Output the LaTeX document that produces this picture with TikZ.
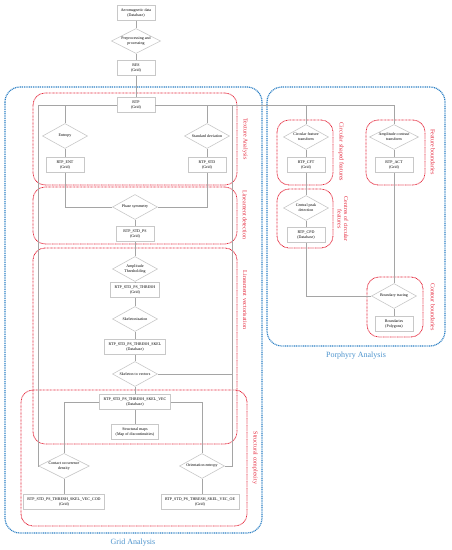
\documentclass[tikz,border=0pt]{standalone}
\usepackage{fontspec}
\setmainfont{Liberation Serif}
\usetikzlibrary{shapes.geometric}

\definecolor{grpred}{RGB}{228,40,60}
\definecolor{grpblue}{RGB}{45,128,196}
\definecolor{boxgray}{RGB}{200,200,200}
\definecolor{linegray}{RGB}{165,165,165}

\tikzset{
    databox/.style={draw=boxgray, fill=white, line width=0.6pt, align=center,
        font=\fontsize{4}{4.8}\selectfont, minimum width=38pt, minimum height=15pt,
        inner xsep=4pt, inner ysep=1pt},
    decision/.style={diamond, draw=boxgray, fill=white, line width=0.6pt, align=center,
        font=\fontsize{4}{4.8}\selectfont, aspect=2, inner sep=0.5pt,
        minimum width=45pt, minimum height=25pt},
    link/.style={draw=linegray, line width=0.7pt},
    stage/.style={draw=grpred, line width=0.8pt, dash pattern=on 0.8pt off 0.6pt, rounded corners=12pt},
    stagelabel/.style={text=grpred, rotate=-90, align=center, font=\fontsize{6}{6.5}\selectfont},
    analysis/.style={draw=grpblue, line width=1.2pt, dash pattern=on 1pt off 0.8pt, rounded corners=15pt},
    analysislabel/.style={text=grpblue!85, font=\fontsize{8}{9}\selectfont}
}

\begin{document}
\begin{tikzpicture}[x=1pt, y=-1pt]
    \useasboundingbox (0,0) rectangle (451,550);

    % groups
    \draw[analysis] (5,87) rectangle (262,533);
    \node[analysislabel] (gridlbl) at (133,543) {Grid Analysis};
    \draw[analysis] (267,87) rectangle (445,346);
    \node[analysislabel] (porlbl) at (356,356) {Porphyry Analysis};

    \draw[stage] (33,93) rectangle (237,185);
    \node[stagelabel] (texlbl) at (245,139) {Texture Analysis};
    \draw[stage] (33,187) rectangle (237,244);
    \node[stagelabel] (detlbl) at (245,215) {Lineament detection};
    \draw[stage] (33,248) rectangle (237,444);
    \node[stagelabel] (veclbl) at (245,300) {Lineament vectorisation};
    \draw[stage] (21,390) rectangle (247,526);
    \node[stagelabel] (strlbl) at (255,458) {Structural complexity};
    \draw[stage] (277,120) rectangle (333,185);
    \node[stagelabel] (cirlbl) at (341,152) {Circular shaped features};
    \draw[stage] (277,189) rectangle (333,248);
    \node[stagelabel] (cenlbl) at (343,219) {Centres of circular\\features};
    \draw[stage] (366,120) rectangle (425,185);
    \node[stagelabel] (feblbl) at (433,152) {Feature boundaries};
    \draw[stage] (367,277) rectangle (423,337);
    \node[stagelabel] (coblbl) at (433,307) {Contour boundaries};

    % grid analysis
    \node[databox] (aero) at (136,13) {Aeromagnetic data\\(Database)};
    \node[decision] (prep) at (136,41) {Preprocessing and\\processing};
    \node[databox] (res) at (136,68) {RES\\(Grid)};
    \node[databox] (rtp) at (136,105) {RTP\\(Grid)};
    \node[decision] (ent) at (65,136) {Entropy};
    \node[databox] (rtpent) at (65,165) {RTP\_ENT\\(Grid)};
    \node[decision] (std) at (207,136) {Standard deviation};
    \node[databox] (rtpstd) at (207,165) {RTP\_STD\\(Grid)};
    \node[decision] (ps) at (135,207) {Phase symmetry};
    \node[databox] (rtpps) at (135,234) {RTP\_STD\_PS\\(Grid)};
    \node[decision] (thr) at (135,269) {Amplitude\\Thresholding};
    \node[databox] (rtpthr) at (135,290) {RTP\_STD\_PS\_THRESH\\(Grid)};
    \node[decision] (skel) at (135,319) {Skeletonisation};
    \node[databox] (rtpskel) at (135,347) {RTP\_STD\_PS\_THRESH\_SKEL\\(Database)};
    \node[decision] (vec) at (135,374) {Skeleton to vectors};
    \node[databox] (rtpvec) at (135,402) {RTP\_STD\_PS\_THRESH\_SKEL\_VEC\\(Database)};
    \node[databox] (smap) at (135,432) {Structural maps\\(Map of discontinuities)};
    \node[decision] (cod) at (64,466) {Contact occurrence\\density};
    \node[databox] (rtpcod) at (64,502) {RTP\_STD\_PS\_THRESH\_SKEL\_VEC\_COD\\(Grid)};
    \node[decision] (oe) at (202,466) {Orientation entropy};
    \node[databox] (rtpoe) at (200,502) {RTP\_STD\_PS\_THRESH\_SKEL\_VEC\_OE\\(Grid)};

    % porphyry analysis
    \node[decision] (cft) at (306,137) {Circular feature\\transform};
    \node[databox] (rtpcft) at (306,165) {RTP\_CFT\\(Grid)};
    \node[decision] (cpd) at (306,208) {Central peak\\detection};
    \node[databox] (rtpcpd) at (306,235) {RTP\_CPD\\(Database)};
    \node[decision] (act) at (394,137) {Amplitude contrast\\transform};
    \node[databox] (rtpact) at (394,165) {RTP\_ACT\\(Grid)};
    \node[decision] (bt) at (394,296) {Boundary tracing};
    \node[databox] (bnd) at (394,324) {Boundaries\\(Polygons)};

    % junction points
    \coordinate (lft) at (38,466);
    \coordinate (rgt) at (232,466);

    \draw[link] (aero) -- (prep);
    \draw[link] (prep) -- (res);
    \draw[link] (res) -- (rtp);
    \draw[link] (rtp) -| (ent);
    \draw[link] (rtp) -| (std);
    \draw[link] (rtp) -| (cft);
    \draw[link] (rtp) -| (act);
    \draw[link] (rtp) -| (lft) -- (cod);
    \draw[link] (rtp) -| (rgt) -- (oe);
    \draw[link] (ent) -- (rtpent);
    \draw[link] (std) -- (rtpstd);
    \draw[link] (rtpent) |- (ps);
    \draw[link] (rtpstd) |- (ps);
    \draw[link] (ps) -- (rtpps);
    \draw[link] (rtpps) -- (thr);
    \draw[link] (thr) -- (rtpthr);
    \draw[link] (rtpthr) -- (skel);
    \draw[link] (skel) -- (rtpskel);
    \draw[link] (rtpskel) -- (vec);
    \draw[link] (vec) -- (vec -| rgt);
    \draw[link] (vec) -- (rtpvec);
    \draw[link] (rtpvec) -- (smap);
    \draw[link] (rtpvec) -| (cod);
    \draw[link] (rtpvec) -| (oe);
    \draw[link] (cod) -- (rtpcod);
    \draw[link] (oe) -- (oe |- rtpoe.north);
    \draw[link] (cft) -- (rtpcft);
    \draw[link] (rtpcft) -- (cpd);
    \draw[link] (cpd) -- (rtpcpd);
    \draw[link] (rtpcpd) |- (bt);
    \draw[link] (act) -- (rtpact);
    \draw[link] (rtpact) -- (bt);
    \draw[link] (bt) -- (bnd);
\end{tikzpicture}
\end{document}
